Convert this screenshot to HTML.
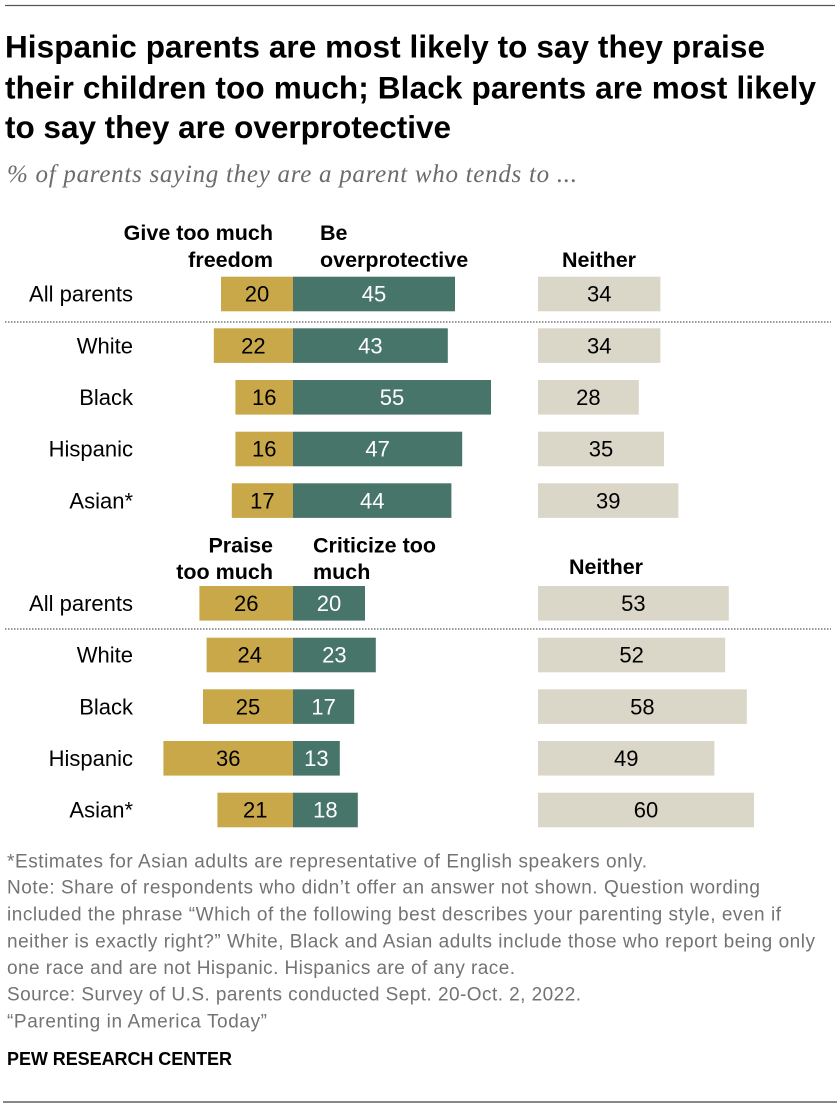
<!DOCTYPE html>
<html><head><meta charset="utf-8"><style>
html,body{margin:0;padding:0;background:#fff;}
svg{display:block;}
text{font-family:"Liberation Sans",Arial,sans-serif;}
.lab{font-size:22px;fill:#000;text-anchor:end;}
.num{font-size:22px;fill:#000;text-anchor:middle;}
.numw{font-size:22px;fill:#fff;text-anchor:middle;}
.hd{font-size:21.5px;font-weight:bold;fill:#000;}
.ft{font-size:19px;fill:#737373;}
</style></head><body>
<svg width="840" height="1108" viewBox="0 0 840 1108" xmlns="http://www.w3.org/2000/svg">
<rect x="0" y="0" width="840" height="1108" fill="#fff"/>
<line x1="5" y1="5.5" x2="835" y2="5.5" stroke="#555" stroke-width="1.3"/>

<g font-weight="bold" font-size="31.5" fill="#000">
<text x="5" y="57.5" textLength="760" lengthAdjust="spacing">Hispanic parents are most likely to say they praise</text>
<text x="5" y="98.5" textLength="811" lengthAdjust="spacing">their children too much; Black parents are most likely</text>
<text x="5" y="138" textLength="446" lengthAdjust="spacing">to say they are overprotective</text>
</g>
<text x="7" y="182" font-style="italic" font-size="25" fill="#6b6b6b" textLength="570" lengthAdjust="spacing" style="font-family:'Liberation Serif',serif">% of parents saying they are a parent who tends to ...</text>

<!-- Section 1 headers -->
<text class="hd" x="273" y="240" text-anchor="end">Give too much</text>
<text class="hd" x="273" y="267" text-anchor="end">freedom</text>
<text class="hd" x="320" y="240">Be</text>
<text class="hd" x="320" y="267">overprotective</text>
<text class="hd" x="599" y="267" text-anchor="middle">Neither</text>

<!-- Section 1 rows -->
<g>
<text class="lab" x="133" y="301.7">All parents</text>
<rect x="221" y="276.7" width="72" height="34.6" fill="#C9A84A"/>
<rect x="293" y="276.7" width="162" height="34.6" fill="#48756A"/>
<rect x="538" y="276.7" width="122.4" height="34.6" fill="#DAD7C9"/>
<text class="num" x="257" y="301.7">20</text>
<text class="numw" x="374" y="301.7">45</text>
<text class="num" x="599.2" y="301.7">34</text>
</g>
<line x1="5" y1="322" x2="831" y2="322" stroke="#999" stroke-width="2" stroke-dasharray="1.5 1.5"/>
<g>
<text class="lab" x="133" y="353.3">White</text>
<rect x="213.8" y="328.3" width="79.2" height="34.6" fill="#C9A84A"/>
<rect x="293" y="328.3" width="154.8" height="34.6" fill="#48756A"/>
<rect x="538" y="328.3" width="122.4" height="34.6" fill="#DAD7C9"/>
<text class="num" x="253.4" y="353.3">22</text>
<text class="numw" x="370.4" y="353.3">43</text>
<text class="num" x="599.2" y="353.3">34</text>
</g>
<g>
<text class="lab" x="133" y="405">Black</text>
<rect x="235.4" y="380" width="57.6" height="34.6" fill="#C9A84A"/>
<rect x="293" y="380" width="198" height="34.6" fill="#48756A"/>
<rect x="538" y="380" width="100.8" height="34.6" fill="#DAD7C9"/>
<text class="num" x="264.2" y="405">16</text>
<text class="numw" x="392" y="405">55</text>
<text class="num" x="588.4" y="405">28</text>
</g>
<g>
<text class="lab" x="133" y="456.7">Hispanic</text>
<rect x="235.4" y="431.7" width="57.6" height="34.6" fill="#C9A84A"/>
<rect x="293" y="431.7" width="169.2" height="34.6" fill="#48756A"/>
<rect x="538" y="431.7" width="126" height="34.6" fill="#DAD7C9"/>
<text class="num" x="264.2" y="456.7">16</text>
<text class="numw" x="377.6" y="456.7">47</text>
<text class="num" x="601" y="456.7">35</text>
</g>
<g>
<text class="lab" x="133" y="508.3">Asian*</text>
<rect x="231.8" y="483.3" width="61.2" height="34.6" fill="#C9A84A"/>
<rect x="293" y="483.3" width="158.4" height="34.6" fill="#48756A"/>
<rect x="538" y="483.3" width="140.4" height="34.6" fill="#DAD7C9"/>
<text class="num" x="262.4" y="508.3">17</text>
<text class="numw" x="372.2" y="508.3">44</text>
<text class="num" x="608.2" y="508.3">39</text>
</g>

<!-- Section 2 headers -->
<text class="hd" x="273" y="552.3" text-anchor="end">Praise</text>
<text class="hd" x="273" y="579" text-anchor="end">too much</text>
<text class="hd" x="313" y="552.3">Criticize too</text>
<text class="hd" x="313" y="579">much</text>
<text class="hd" x="606" y="574" text-anchor="middle">Neither</text>

<!-- Section 2 rows -->
<g>
<text class="lab" x="133" y="611">All parents</text>
<rect x="199.4" y="586" width="93.6" height="34.6" fill="#C9A84A"/>
<rect x="293" y="586" width="72" height="34.6" fill="#48756A"/>
<rect x="538" y="586" width="190.8" height="34.6" fill="#DAD7C9"/>
<text class="num" x="246.2" y="611">26</text>
<text class="numw" x="329" y="611">20</text>
<text class="num" x="633.4" y="611">53</text>
</g>
<line x1="5" y1="629" x2="831" y2="629" stroke="#999" stroke-width="2" stroke-dasharray="1.5 1.5"/>
<g>
<text class="lab" x="133" y="662.7">White</text>
<rect x="206.6" y="637.7" width="86.4" height="34.6" fill="#C9A84A"/>
<rect x="293" y="637.7" width="82.8" height="34.6" fill="#48756A"/>
<rect x="538" y="637.7" width="187.2" height="34.6" fill="#DAD7C9"/>
<text class="num" x="249.8" y="662.7">24</text>
<text class="numw" x="334.4" y="662.7">23</text>
<text class="num" x="631.6" y="662.7">52</text>
</g>
<g>
<text class="lab" x="133" y="714.3">Black</text>
<rect x="203" y="689.3" width="90" height="34.6" fill="#C9A84A"/>
<rect x="293" y="689.3" width="61.2" height="34.6" fill="#48756A"/>
<rect x="538" y="689.3" width="208.8" height="34.6" fill="#DAD7C9"/>
<text class="num" x="248" y="714.3">25</text>
<text class="numw" x="323.6" y="714.3">17</text>
<text class="num" x="642.4" y="714.3">58</text>
</g>
<g>
<text class="lab" x="133" y="766">Hispanic</text>
<rect x="163.4" y="741" width="129.6" height="34.6" fill="#C9A84A"/>
<rect x="293" y="741" width="46.8" height="34.6" fill="#48756A"/>
<rect x="538" y="741" width="176.4" height="34.6" fill="#DAD7C9"/>
<text class="num" x="228.2" y="766">36</text>
<text class="numw" x="316.4" y="766">13</text>
<text class="num" x="626.2" y="766">49</text>
</g>
<g>
<text class="lab" x="133" y="817.7">Asian*</text>
<rect x="217.4" y="792.7" width="75.6" height="34.6" fill="#C9A84A"/>
<rect x="293" y="792.7" width="64.8" height="34.6" fill="#48756A"/>
<rect x="538" y="792.7" width="216" height="34.6" fill="#DAD7C9"/>
<text class="num" x="255.2" y="817.7">21</text>
<text class="numw" x="325.4" y="817.7">18</text>
<text class="num" x="646" y="817.7">60</text>
</g>

<!-- Footer -->
<text class="ft" x="7" y="867.3" textLength="640" lengthAdjust="spacing">*Estimates for Asian adults are representative of English speakers only.</text>
<text class="ft" x="7" y="893.5" textLength="753" lengthAdjust="spacing">Note: Share of respondents who didn’t offer an answer not shown. Question wording</text>
<text class="ft" x="7" y="920.5" textLength="774" lengthAdjust="spacing">included the phrase “Which of the following best describes your parenting style, even if</text>
<text class="ft" x="7" y="947.3" textLength="808" lengthAdjust="spacing">neither is exactly right?” White, Black and Asian adults include those who report being only</text>
<text class="ft" x="7" y="974" textLength="508" lengthAdjust="spacing">one race and are not Hispanic. Hispanics are of any race.</text>
<text class="ft" x="7" y="1000.7" textLength="574" lengthAdjust="spacing">Source: Survey of U.S. parents conducted Sept. 20-Oct. 2, 2022.</text>
<text class="ft" x="7" y="1027.3" textLength="260" lengthAdjust="spacing">“Parenting in America Today”</text>
<text x="7" y="1065" font-size="18" font-weight="bold" fill="#000" textLength="225" lengthAdjust="spacing">PEW RESEARCH CENTER</text>

<line x1="3" y1="1102" x2="837" y2="1102" stroke="#888" stroke-width="2"/>
</svg>
</body></html>
